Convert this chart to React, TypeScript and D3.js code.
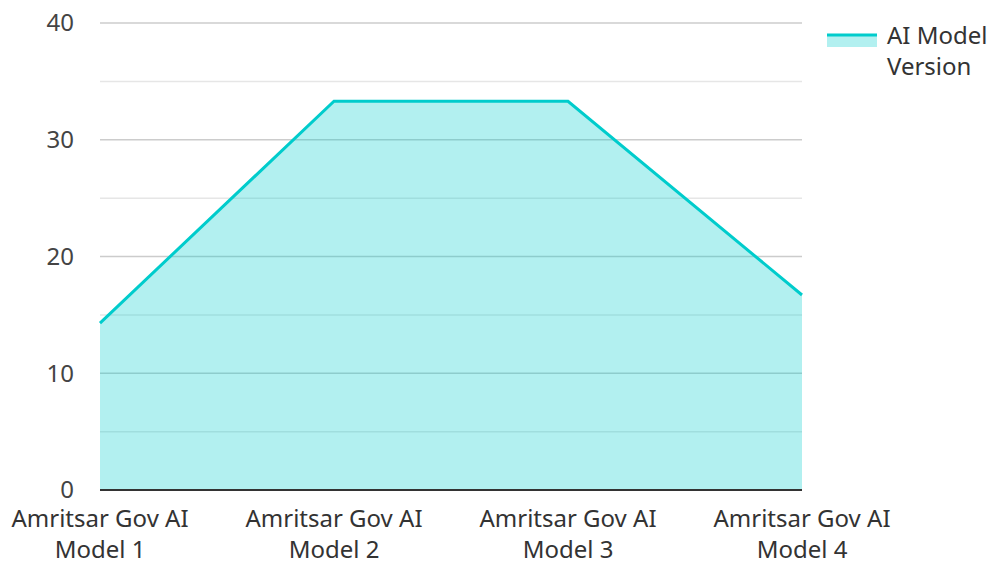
import React from 'react'
import * as d3 from 'd3'

const categories = ['Amritsar Gov AI Model 1', 'Amritsar Gov AI Model 2', 'Amritsar Gov AI Model 3', 'Amritsar Gov AI Model 4']
const labelLines = [['Amritsar Gov AI', 'Model 1'], ['Amritsar Gov AI', 'Model 2'], ['Amritsar Gov AI', 'Model 3'], ['Amritsar Gov AI', 'Model 4']]
const values = [14.3, 33.3, 33.3, 16.7]
const yTicks = [0, 10, 20, 30, 40]
const minorTicks = [5, 15, 25, 35]
const seriesName = ['AI Model', 'Version']

const W = 992
const H = 562
const margin = { top: 23, right: 190, bottom: 72, left: 100 }
const font = "'Noto Sans', 'Open Sans', sans-serif"

export default function App() {
    const innerW = W - margin.left - margin.right
    const innerH = H - margin.top - margin.bottom
    const x = d3.scalePoint<string>().domain(categories).range([0, innerW])
    const y = d3.scaleLinear().domain([0, 40]).range([innerH, 0])

    const area = d3.area<number>()
        .x((d, i) => x(categories[i]) as number)
        .y0(innerH)
        .y1(d => y(d))
    const line = d3.line<number>()
        .x((d, i) => x(categories[i]) as number)
        .y(d => y(d))

    return (
        <svg width={W} height={H} style={{ position: 'absolute', left: 0, top: 0, fontFamily: font }}>
            <g transform={`translate(${margin.left},${margin.top})`}>
                {minorTicks.map(t => (
                    <line key={'m' + t} x1={0} x2={innerW} y1={y(t)} y2={y(t)} stroke="#e6e6e6" strokeWidth={1.5} />
                ))}
                {yTicks.filter(t => t > 0).map(t => (
                    <line key={'g' + t} x1={0} x2={innerW} y1={y(t)} y2={y(t)} stroke="#cccccc" strokeWidth={1.5} />
                ))}
                <path d={area(values) || ''} fill="#00cccc" fillOpacity={0.3} />
                <path d={line(values) || ''} fill="none" stroke="#00cccc" strokeWidth={3} />
                <line x1={0} x2={innerW} y1={innerH} y2={innerH} stroke="#333" strokeWidth={2} />
                {yTicks.map(t => (
                    <text key={'t' + t} x={-26} y={y(t)} dy="0.35em" textAnchor="end" fontSize={24} fill="#444">{t}</text>
                ))}
                {labelLines.map((ls, i) => (
                    <text key={'x' + i} x={x(categories[i])} y={innerH + 37} textAnchor="middle" fontSize={24} fill="#333">
                        {ls.map((l, j) => (
                            <tspan key={j} x={x(categories[i])} dy={j === 0 ? 0 : 31}>{l}</tspan>
                        ))}
                    </text>
                ))}
            </g>
            <g transform="translate(827,35)">
                <rect x={0} y={0} width={50} height={12} fill="#00cccc" fillOpacity={0.3} />
                <line x1={0} x2={50} y1={0} y2={0} stroke="#00cccc" strokeWidth={3} />
                <text x={60} y={9} fontSize={24} fill="#333">
                    {seriesName.map((l, j) => (
                        <tspan key={j} x={60} dy={j === 0 ? 0 : 31}>{l}</tspan>
                    ))}
                </text>
            </g>
        </svg>
    )
}
